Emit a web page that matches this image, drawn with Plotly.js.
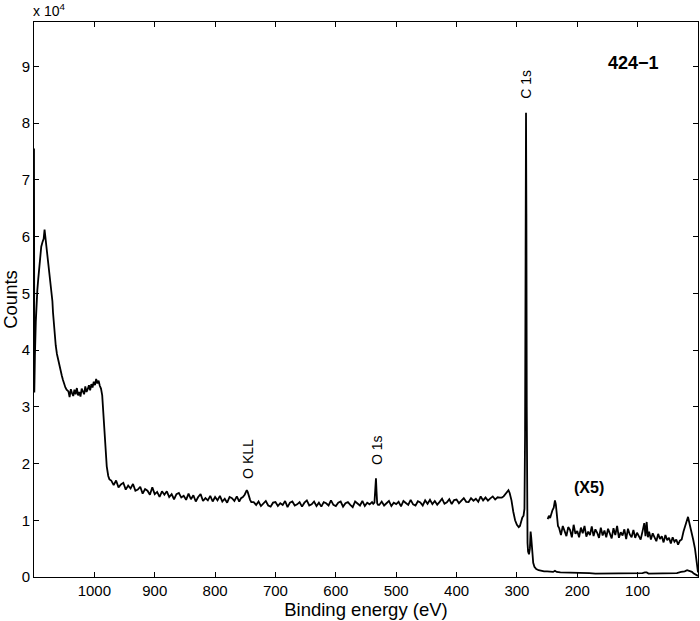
<!DOCTYPE html>
<html>
<head>
<meta charset="utf-8">
<script src="https://cdn.plot.ly/plotly-3.0.1.min.js"></script>
<style>html,body{margin:0;padding:0;background:#fff;}#chart{width:700px;height:621px;}</style>
</head>
<body>
<div id="chart"></div>
<script>
// Binding energy (eV) and counts (in units of 10^4) for the survey spectrum
var surveyEnergy = [
1100,1099.5,1098.5,1097,1096,1094.5,1093,1091,1089,1088,1086,1084,1082.5,1081,1079,1077,1075,1073,1071,1069.5,1068.5,1067,1066,1064,1062,1060,1058,1056,1054,1052,1050,1048,1046,
1043,1041,1039,1037,1035,1033,1031,1029,1027,1025,1023,1021,1019,1017,1015,1013,1011,1009,1007,1005,1003,1001,999,997,995,993,991,989,987,985,983,981,979.5,977,975,
972,968,964,960,956,952,948,944,940,936,932,928,924,920,916,912,908,904,900,896,892,888,884,880,876,872,868,864,860,856,852,848,844,840,836,832,828,824,820,816,812,808,804,800,796,792,788,784,780,776,772,768,764,760,
757,754,751,749,747.5,746,744,742,740,
736,732,728,724,720,716,712,708,704,700,696,692,688,684,680,676,672,668,664,660,656,652,648,644,640,636,632,628,624,620,616,612,608,604,600,596,592,588,584,580,576,572,568,564,560,556,552,548,544,540,
538,536,534.5,533.5,532.5,531.5,530,
528,524,520,516,512,508,504,500,496,492,488,484,480,476,472,468,464,460,456,452,448,444,440,436,432,428,424,420,416,412,408,404,400,396,392,388,384,380,376,372,368,364,360,356,352,348,344,340,336,332,328,
325,322,319,316,314,312,309,306,303,300,297,295,293,291,289,287.5,286.5,285.6,284.9,284.3,283.7,283.1,282.4,281.5,280,278.5,277.3,276.3,275,273,271,268,264,260,255,250,245,240,237,234,228,220,210,200,190,180,170,160,150,140,130,120,110,100,92,88,85,82,75,65,55,45,35,28,22,18,14,10,7,4,2,0
];
var surveyCounts = [
7.55,3.25,3.9,4.5,4.83,5.05,5.25,5.55,5.78,5.82,5.9,5.96,6.12,5.98,5.84,5.65,5.42,5.22,5.04,4.86,4.66,4.45,4.3,4.08,3.93,3.82,3.72,3.64,3.55,3.47,3.39,3.34,3.3,
3.27,3.17,3.31,3.24,3.19,3.3,3.22,3.33,3.2,3.26,3.18,3.32,3.27,3.22,3.36,3.26,3.31,3.38,3.29,3.4,3.34,3.44,3.38,3.49,3.41,3.46,3.37,3.32,3.2,2.85,2.5,2.2,1.95,1.78,1.72,
1.70,1.62,1.70,1.58,1.63,1.66,1.54,1.61,1.56,1.64,1.52,1.54,1.59,1.47,1.55,1.52,1.45,1.58,1.46,1.50,1.41,1.51,1.45,1.51,1.41,1.46,1.37,1.46,1.48,1.40,1.43,1.36,1.47,1.37,1.44,1.33,1.41,1.46,1.34,1.39,1.35,1.43,1.33,1.41,1.35,1.43,1.33,1.38,1.31,1.41,1.39,1.34,1.42,1.33,
1.39,1.41,1.45,1.49,1.53,1.5,1.42,1.36,1.32,
1.32,1.27,1.33,1.25,1.30,1.34,1.26,1.24,1.31,1.32,1.25,1.30,1.27,1.34,1.23,1.31,1.33,1.26,1.28,1.32,1.24,1.31,1.35,1.26,1.28,1.33,1.25,1.31,1.24,1.32,1.30,1.26,1.35,1.27,1.25,1.31,1.33,1.24,1.30,1.32,1.27,1.23,1.33,1.30,1.26,1.34,1.25,1.31,1.28,1.32,
1.29,1.31,1.5,1.74,1.5,1.3,1.27,
1.27,1.33,1.26,1.30,1.34,1.25,1.31,1.285,1.325,1.245,1.34,1.305,1.27,1.36,1.28,1.26,1.335,1.315,1.26,1.35,1.29,1.36,1.285,1.34,1.275,1.325,1.38,1.29,1.315,1.37,1.285,1.355,1.365,1.30,1.35,1.39,1.325,1.32,1.39,1.345,1.38,1.325,1.42,1.35,1.40,1.345,1.385,1.42,1.365,1.405,1.40,
1.4,1.42,1.46,1.52,1.53,1.48,1.35,1.15,1.0,0.92,0.88,0.9,0.98,1.05,1.08,1.2,2.5,6.0,8.18,6.4,3.0,1.2,0.6,0.45,0.4,0.5,0.8,0.7,0.45,0.25,0.18,0.14,0.12,0.11,0.1,0.1,0.09,0.09,0.11,0.09,0.08,0.08,0.07,0.07,0.07,0.07,0.06,0.06,0.06,0.06,0.06,0.06,0.06,0.06,0.07,0.08,0.08,0.06,0.06,0.06,0.06,0.07,0.07,0.09,0.1,0.12,0.11,0.09,0.06,0.04,0.03,0.02
];
// Low binding-energy region magnified five times
var magEnergy = [249,247,245,243,241,239,237,235.5,234,232,230,227,224,221,218,215,212,209,206,203,200,197,194,191,188,185,182,179,176,173,170,167,164,161,158,155,152,149,146,143,140,137,134,131,128,125,122,119,116,113,110,107,104,101,98,95,92,89,87,85,83,81,78,75,72,69,66,63,60,57,54,51,48,45,42,39,36,33,30,27,24,21,18.5,16.5,14.5,12.5,10.5,8,5,3,1,0];
var magCounts = [1.02,1.08,1.04,1.12,1.18,1.22,1.35,1.28,1.1,0.9,
0.86,0.74,0.9,0.79,0.72,0.88,0.83,0.7,0.92,0.76,0.81,0.7,0.87,0.77,0.9,0.71,0.8,0.74,0.89,0.72,0.84,0.78,0.69,0.87,0.73,0.82,0.7,0.85,0.76,0.68,0.86,0.74,0.9,0.69,0.79,0.73,0.84,0.67,0.85,0.75,0.7,0.83,0.69,0.78,0.72,0.66,0.8,
0.95,0.72,0.97,0.7,0.8,
0.66,0.77,0.7,0.63,0.76,0.67,0.72,0.61,0.74,0.65,0.69,0.59,0.7,0.62,0.66,0.57,0.64,0.66,
0.8,0.9,1.0,1.06,0.96,0.88,0.8,0.66,0.5,0.35,0.15,0.08];

var xTicks = [100,200,300,400,500,600,700,800,900,1000];
var yTicks = [0,1,2,3,4,5,6,7,8,9];

// Peak labels: text, energy, height (10^4 counts)
var peakLabels = ["O KLL","O 1s","C 1s"];
var peakEnergy = [745.6,531.5,284.2];
var peakHeight = [2.08,2.24,8.68];

var FONT = "Liberation Sans, Arial, Helvetica, sans-serif";

var traces = [
  {x: surveyEnergy, y: surveyCounts, type: "scatter", mode: "lines",
   line: {color: "#000", width: 1.8}, hoverinfo: "x+y", showlegend: false},
  {x: magEnergy, y: magCounts, type: "scatter", mode: "lines",
   line: {color: "#000", width: 1.8}, hoverinfo: "x+y", showlegend: false}
];

var annotations = peakLabels.map(function(t, i){
  return {text: t, x: peakEnergy[i], y: peakHeight[i], xref: "x", yref: "y",
    showarrow: false, textangle: -90, xanchor: "center", yanchor: "middle",
    font: {family: FONT, size: 14, color: "#000"}};
});
annotations.push({text: "<b>424\u22121</b>", x: 106.5, y: 9.06, xref: "x", yref: "y",
  showarrow: false, xanchor: "center", yanchor: "middle", font: {family: FONT, size: 18, color: "#000"}});
annotations.push({text: "<b>(X5)</b>", x: 181, y: 1.58, xref: "x", yref: "y",
  showarrow: false, xanchor: "center", yanchor: "middle", font: {family: FONT, size: 16, color: "#000"}});
annotations.push({text: "x 10<sup>4</sup>", x: 0, y: 1, xref: "paper", yref: "paper",
  showarrow: false, xanchor: "left", yanchor: "bottom", xshift: -3, yshift: 1, font: {family: FONT, size: 14, color: "#000"}});

var layout = {
  width: 700, height: 621,
  margin: {l: 34, r: 2, t: 22, b: 44, pad: 0},
  paper_bgcolor: "#fff", plot_bgcolor: "#fff",
  font: {family: FONT, size: 15, color: "#000"},
  xaxis: {range: [1100, 0], tickvals: xTicks, ticks: "inside", ticklen: 5, tickwidth: 1, tickcolor: "#000",
    showline: true, linecolor: "#000", linewidth: 1, mirror: "ticks", showgrid: false, zeroline: false,
    tickfont: {family: FONT, size: 15}, automargin: false,
    title: {text: "Binding energy (eV)", font: {family: FONT, size: 18.5}, standoff: 2}},
  yaxis: {range: [0, 9.78], tickvals: yTicks, ticks: "inside", ticklen: 5, tickwidth: 1, tickcolor: "#000",
    showline: true, linecolor: "#000", linewidth: 1, mirror: "ticks", showgrid: false, zeroline: false,
    tickfont: {family: FONT, size: 15}, automargin: false,
    title: {text: "Counts", font: {family: FONT, size: 18.5}, standoff: 3}},
  annotations: annotations,
  showlegend: false
};

Plotly.newPlot("chart", traces, layout, {displayModeBar: false});
</script>
</body>
</html>
